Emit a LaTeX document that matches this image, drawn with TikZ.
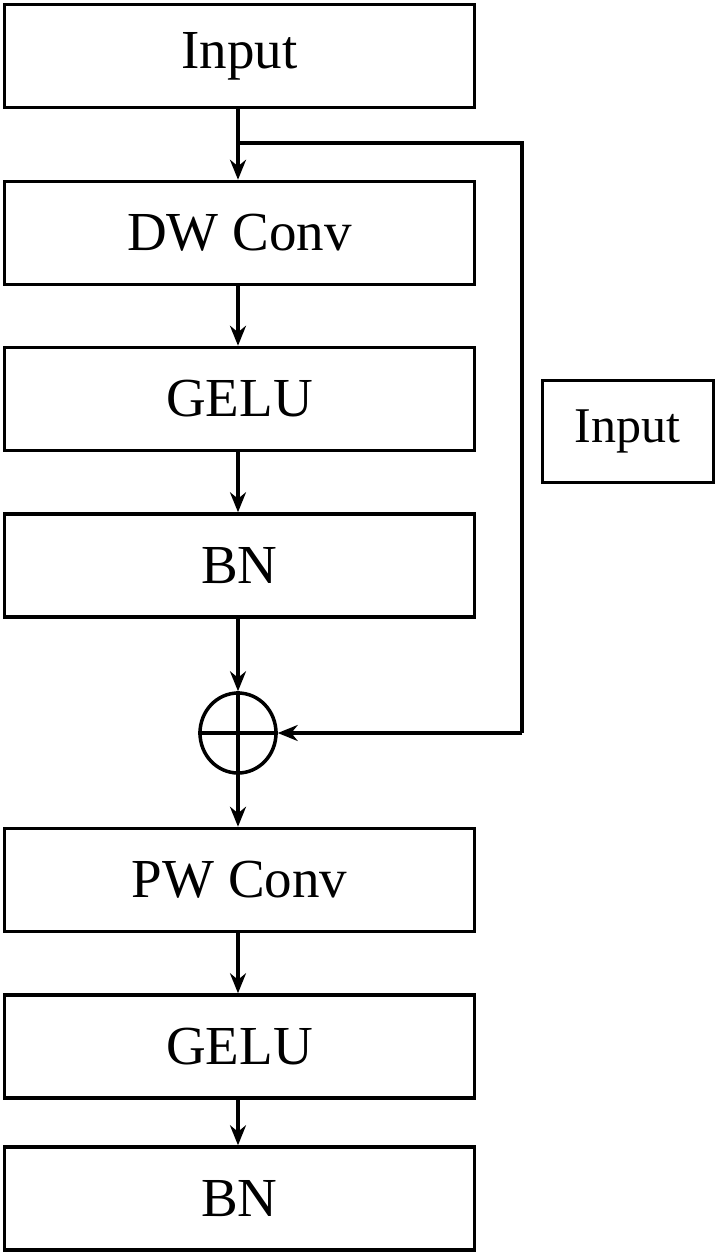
\documentclass[tikz,border=0pt]{standalone}
\usepackage{fontspec}
\setmainfont{Liberation Serif}
\usetikzlibrary{arrows.meta,shapes.geometric}
\begin{document}
\begin{tikzpicture}[x=1pt,y=-1pt,
  box/.style={draw,line width=3.5pt,minimum width=470pt,minimum height=103pt,font=\fontsize{55}{62}\selectfont,inner sep=0pt},
  arr/.style={-{Stealth[length=20pt,width=16pt]},line width=3.5pt}]
\useasboundingbox (0,0) rectangle (720,1256);
\node[box] (in) at (239.5,56) {Input};
\node[box] (dw) at (239.5,233) {DW Conv};
\node[box] (g1) at (239.5,399) {GELU};
\node[box] (b1) at (239.5,565.5) {BN};
\node[draw,line width=3.5pt,ellipse,minimum width=76pt,minimum height=80pt,inner sep=0pt] (add) at (238,733) {};
\draw[line width=3.5pt] (add.north)--(add.south) (add.west)--(add.east);
\node[box] (pw) at (239.5,880) {PW Conv};
\node[box] (g2) at (239.5,1046.5) {GELU};
\node[box] (b2) at (239.5,1198.5) {BN};
\node[draw,line width=3pt,minimum width=171pt,minimum height=102pt,font=\fontsize{50}{58}\selectfont] (side) at (627.5,431) {Input};
\coordinate (s1) at (238,143);
\coordinate (s2) at (522,143);
\coordinate (s3) at (522,733);
\draw[arr] (in.south-|s1)--(dw.north-|s1);
\draw[line width=3.5pt] (s1)--(s2)--(s3);
\draw[arr] (s3)--(add.east);
\draw[arr] (dw.south-|s1)--(g1.north-|s1);
\draw[arr] (g1.south-|s1)--(b1.north-|s1);
\draw[arr] (b1.south-|s1)--(add.north);
\draw[arr] (add.south)--(pw.north-|s1);
\draw[arr] (pw.south-|s1)--(g2.north-|s1);
\draw[arr] (g2.south-|s1)--(b2.north-|s1);
\end{tikzpicture}
\end{document}
